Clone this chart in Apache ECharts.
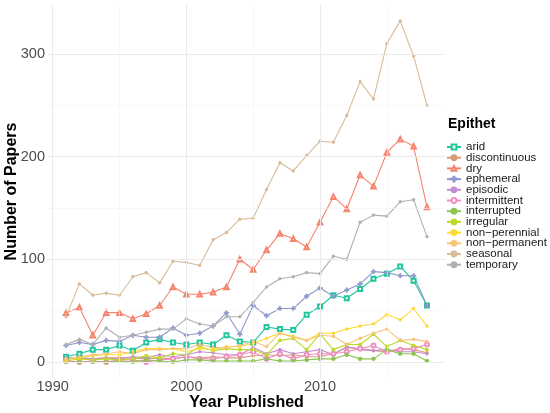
<!DOCTYPE html>
<html>
<head>
<meta charset="utf-8">
<script src="https://cdn.jsdelivr.net/npm/echarts@6/dist/echarts.min.js"></script>
<style>
html,body{margin:0;padding:0;background:#fff;}
#chart{width:550px;height:413px;}
</style>
</head>
<body>
<div id="chart"></div>
<script>
const years = [1991,1992,1993,1994,1995,1996,1997,1998,1999,2000,2001,2002,2003,2004,2005,2006,2007,2008,2009,2010,2011,2012,2013,2014,2015,2016,2017,2018];

const arid          = [5,8,12,12,16,11,19,22,19,17,19,17,26,20,19,34,32,31,46,54,65,62,71,81,86,93,79,55];
const discontinuous = [4,4,3,4,4,4,3,4,3,5,4,5,4,4,6,7,6,7,5,5,8,14,13,11,10,13,12,9];
const dry           = [48,53,26,48,48,42,47,55,73,66,66,68,73,100,90,109,125,120,112,136,161,149,182,171,204,217,210,151];
const ephemeral     = [16,19,17,21,20,26,24,24,33,26,28,35,48,27,55,45,52,52,64,72,64,70,76,88,87,84,84,55];
const episodic      = [3,4,3,4,3,5,4,7,5,7,10,9,7,7,14,8,12,8,10,12,7,15,12,11,12,10,10,8];
const intermittent  = [1,0,1,0,2,2,0,2,3,5,3,3,5,7,10,3,8,3,7,8,8,10,13,16,10,12,13,17];
const interrupted   = [0,0,0,0,1,0,2,1,0,2,2,1,1,1,1,3,1,1,2,3,3,7,3,3,12,8,8,1];
const irregular     = [1,3,2,3,2,3,6,4,8,7,15,11,13,12,12,7,21,23,12,27,12,17,17,27,15,21,16,12];
const nonPerennial  = [2,4,6,7,7,10,13,13,13,10,13,12,15,15,18,23,28,25,21,28,28,32,35,37,46,41,52,35];
const nonPermanent  = [3,5,7,8,10,8,12,12,13,13,17,14,14,16,20,15,28,24,21,26,25,17,23,28,32,21,22,20];
const seasonal      = [44,76,65,67,65,83,87,77,98,97,94,119,126,139,140,168,194,186,201,215,214,240,273,256,310,332,298,250];
const temporary     = [17,22,17,33,24,26,29,32,32,42,37,35,44,44,58,73,81,83,87,86,103,100,136,143,142,156,158,122];

const xTicks = [1990, 2000, 2010];
const xMinorGrid = [1995, 2005, 2015];
const yTicks = [0, 100, 200, 300];
const yMinorGrid = [50, 150, 250];

const plus = 'path://M4,0h2v4h4v2h-4v4h-2v-4h-4v-2h4z';
const seriesDefs = [
  {name:'arid', data:arid, color:'#22c69e', symbol:'emptyRect', size:4},
  {name:'discontinuous', data:discontinuous, color:'#d99a72', symbol:'circle', size:2.5},
  {name:'dry', data:dry, color:'#f5836d', symbol:'emptyTriangle', size:4.5},
  {name:'ephemeral', data:ephemeral, color:'#8f98cc', symbol:plus, size:4.5},
  {name:'episodic', data:episodic, color:'#c38ed0', symbol:'circle', size:2.5},
  {name:'intermittent', data:intermittent, color:'#ef8fc0', symbol:'emptyCircle', size:4},
  {name:'interrupted', data:interrupted, color:'#8cc450', symbol:'circle', size:3.5},
  {name:'irregular', data:irregular, color:'#bfd82c', symbol:'circle', size:3},
  {name:'non\u2212perennial', data:nonPerennial, color:'#ffd932', symbol:'circle', size:2.5},
  {name:'non\u2212permanent', data:nonPermanent, color:'#f8c47a', symbol:'circle', size:2.5},
  {name:'seasonal', data:seasonal, color:'#d8bc98', symbol:'circle', size:2.5},
  {name:'temporary', data:temporary, color:'#b0b0b0', symbol:'circle', size:2.5}
];

const FONT = 'Liberation Sans';
const majorStyle = {color:'#ebebeb', width:1, type:'solid'};
const minorStyle = {color:'#f4f4f4', width:0.6, type:'solid'};

const gridLines = [];
yTicks.forEach(v => gridLines.push({yAxis:v, lineStyle:majorStyle}));
yMinorGrid.forEach(v => gridLines.push({yAxis:v, lineStyle:minorStyle}));
xTicks.forEach(v => gridLines.push({xAxis:v, lineStyle:majorStyle}));
xMinorGrid.forEach(v => gridLines.push({xAxis:v, lineStyle:minorStyle}));

const series = [{
  type:'line', name:'__grid', data:[], silent:true, z:0,
  markLine:{silent:true, symbol:['none','none'], label:{show:false}, animation:false, data:gridLines}
}];
seriesDefs.forEach(d => {
  series.push({
    type:'line', name:d.name,
    data: years.map((y,i)=>[y, d.data[i]]),
    symbol:d.symbol, symbolSize:d.size, showSymbol:true,
    itemStyle:{color:d.color, borderColor:d.color, borderWidth:1},
    lineStyle:{color:d.color, width:1.1},
    emphasis:{disabled:true},
    animation:false, z:2
  });
});

const chart = echarts.init(document.getElementById('chart'), null, {renderer:'canvas'});
chart.setOption({
  backgroundColor:'#ffffff',
  animation:false,
  textStyle:{fontFamily:FONT},
  title:{text:'Epithet', left:448, top:117, padding:0, textStyle:{fontFamily:FONT, fontSize:14, fontWeight:'bold', color:'#000'}},
  grid:{left:48, right:105, top:4, bottom:34, containLabel:false, outerBoundsMode:'none'},
  legend:{
    orient:'vertical', left:446, top:141, padding:0,
    itemWidth:14, itemHeight:6, itemGap:-1.3,
    data: seriesDefs.map(d=>d.name),
    textStyle:{fontFamily:FONT, fontSize:11.5, color:'#1a1a1a'}
  },
  xAxis:{
    type:'value', min:1989.65, max:2019.35,
    name:'Year Published', nameLocation:'middle', nameGap:16, nameMoveOverlap:false,
    nameTextStyle:{fontFamily:FONT, fontSize:16, fontWeight:'bold', color:'#000'},
    axisLine:{show:false}, axisTick:{show:false}, splitLine:{show:false},
    axisLabel:{customValues:xTicks, fontFamily:FONT, fontSize:14.5, color:'#4d4d4d', margin:0, formatter:v=>String(Math.round(v))}
  },
  yAxis:{
    type:'value', min:-16.6, max:348.6,
    name:'Number of Papers', nameLocation:'middle', nameGap:28, nameRotate:90, nameMoveOverlap:false,
    nameTextStyle:{fontFamily:FONT, fontSize:16, fontWeight:'bold', color:'#000'},
    axisLine:{show:false}, axisTick:{show:false}, splitLine:{show:false},
    axisLabel:{customValues:yTicks, fontFamily:FONT, fontSize:14.5, color:'#4d4d4d', margin:3, formatter:v=>String(Math.round(v))}
  },
  series: series
});
</script>
</body>
</html>
